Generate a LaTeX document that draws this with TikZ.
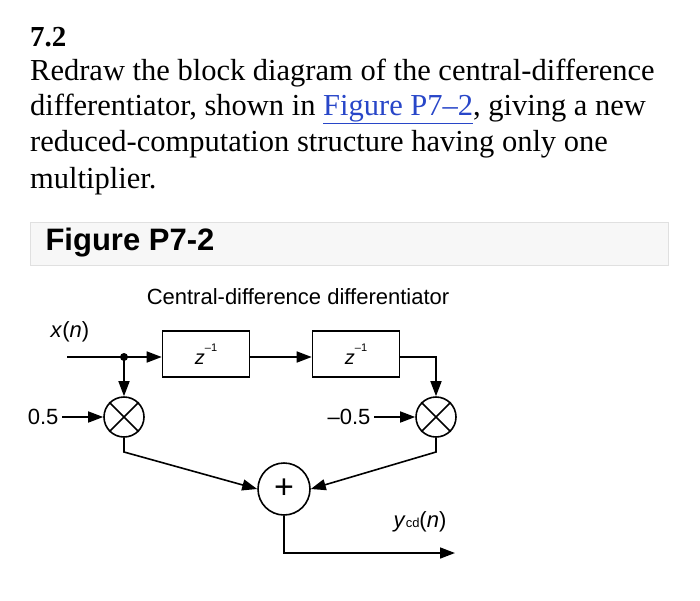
\documentclass[tikz,border=0pt]{standalone}
\usepackage{fontspec}
\setmainfont{Liberation Serif}
\setsansfont{Liberation Sans}
\usetikzlibrary{arrows.meta}
\definecolor{linkblue}{RGB}{40,70,200}
\begin{document}
\begin{tikzpicture}[x=1pt,y=-1pt,
  sig/.style={line width=1.6pt,-{Triangle[length=15pt,width=11pt]}},
  wire/.style={line width=1.6pt},
  dly/.style={draw,line width=1.6pt,minimum width=87pt,minimum height=46pt,inner sep=0pt,font=\sffamily\fontsize{20}{22}\selectfont},
  ring/.style={circle,draw,line width=1.6pt,inner sep=0pt},
  lab/.style={font=\sffamily\fontsize{22}{24}\selectfont},
  para/.style={anchor=base west,inner sep=0pt,font=\fontsize{30.5}{32}\selectfont}]
\useasboundingbox (0,0) rectangle (700,600);
\node[para,font=\bfseries\fontsize{29}{30}\selectfont] (num) at (30,46) {7.2};
\node[para] (l1) at (30,80) {Redraw the block diagram of the central-difference};
\node[para] (l2) at (30,115) {differentiator, shown in \textcolor{linkblue}{\underline{Figure P7–2}}, giving a new};
\node[para] (l3) at (30,151) {reduced-computation structure having only one};
\node[para] (l4) at (30,188) {multiplier.};
\node[draw=black!12,fill=black!3,minimum width=638pt,minimum height=43pt,anchor=north west,inner sep=0pt] (hdr) at (30,222) {};
\node[anchor=west,font=\sffamily\bfseries\fontsize{31}{32}\selectfont] (hdrt) at (42,243) {Figure P7-2};
\node[lab] (title) at (298,297) {Central-difference differentiator};
% diagram
\coordinate (in) at (67,357);
\coordinate (j) at (124,357);
\node[dly] (d1) at (206,354) {\textit{z}\raisebox{1.2ex}{\fontsize{11}{11}\selectfont –1}};
\node[dly] (d2) at (356,354) {\textit{z}\raisebox{1.2ex}{\fontsize{11}{11}\selectfont –1}};
\node[ring,minimum size=40pt] (m1) at (124,417) {};
\node[ring,minimum size=40pt] (m2) at (436,417) {};
\draw[wire] (m1.north west)--(m1.south east) (m1.north east)--(m1.south west);
\draw[wire] (m2.north west)--(m2.south east) (m2.north east)--(m2.south west);
\node[ring,minimum size=52pt,font=\sffamily\fontsize{34}{34}\selectfont] (add) at (284,489) {+};
\node[lab,anchor=east] (k1) at (62,417) {0.5};
\node[lab,anchor=east] (k2) at (374,417) {–0.5};
\node[lab] (xn) at (70,332) {\textit{x}(\textit{n})};
\node[lab] (yn) at (420,522) {\textit{y}{\fontsize{13}{13}\selectfont cd}(\textit{n})};
\coordinate (out) at (455,553);
\coordinate (c1) at (124,452);
\coordinate (c2) at (436,452);
\coordinate (o1) at (284,553);
\coordinate (e2) at (436,357);
\draw[wire] (in)--(j);
\fill (j) circle (4pt);
\draw[sig] (j)--(d1.west|-j);
\draw[sig] (j)--(m1.north);
\draw[sig] (d1.east|-j)--(d2.west|-j);
\draw[sig] (d2.east|-e2)--(e2)--(m2.north);
\draw[sig] (k1.east)--(m1.west);
\draw[sig] (k2.east)--(m2.west);
\draw[sig] (m1.south)--(c1)--(add.west);
\draw[sig] (m2.south)--(c2)--(add.east);
\draw[sig] (add.south)--(o1)--(out);
\end{tikzpicture}
\end{document}
